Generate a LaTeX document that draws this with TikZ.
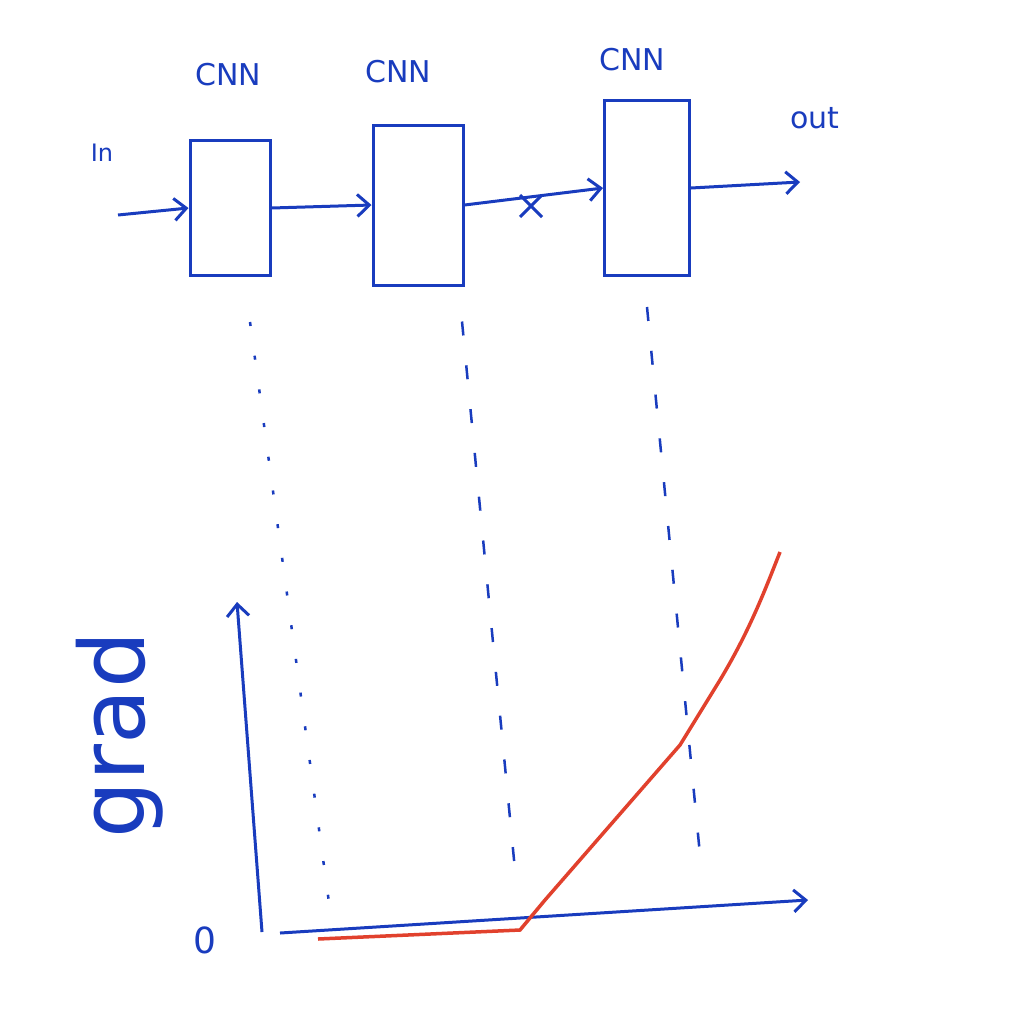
\documentclass[tikz,border=0pt]{standalone}
\usepackage{fontspec}
\setmainfont{DejaVu Sans}
\usetikzlibrary{arrows.meta}
\definecolor{pen}{RGB}{25,60,190}
\definecolor{redpen}{RGB}{225,65,45}
\tikzset{
 cnnbox/.style={draw=pen,line width=3pt,minimum width=#1,inner sep=0pt},
 lbl/.style={text=pen,font=\fontsize{30}{30}\selectfont},
 conn/.style={draw=pen,line width=3pt,-{Straight Barb[length=12pt,width=22pt]}},
 guide/.style={draw=pen,line width=2.5pt,dash pattern=on 14pt off 30pt},
}
\begin{document}
\begin{tikzpicture}[x=1pt,y=-1pt]
\useasboundingbox[fill=white] (0,0) rectangle (1024,1010);
\node[cnnbox=80pt,minimum height=135pt] (b1) at (230,208) {};
\node[cnnbox=90pt,minimum height=160pt] (b2) at (418,205) {};
\node[cnnbox=85pt,minimum height=175pt] (b3) at (647,188) {};
\node[lbl] (c1) at (228,75) {CNN};
\node[lbl] (c2) at (398,72) {CNN};
\node[lbl] (c3) at (632,60) {CNN};
\node[lbl,font=\fontsize{24}{24}\selectfont] (in) at (102,153) {In};
\node[lbl] (out) at (815,118) {out};
\coordinate (s0) at (118,215);
\coordinate (e3) at (800,182);
\draw[conn] (s0) -- (b1.west);
\draw[conn] (b1.east) -- (b2.west);
\draw[conn] (b2.east) -- (b3.west);
\draw[pen,line width=3pt] (520,195) -- (542,217) (542,195) -- (520,217);
\draw[conn] (b3.east) -- (e3);
\coordinate (o) at (262,932);
\coordinate (ytop) at (237,602);
\coordinate (xend) at (808,900);
\draw[conn] (o) -- (ytop);
\draw[conn] (280,933) -- (xend);
\node[lbl,font=\fontsize{36}{36}\selectfont] (zero) at (205,940) {0};
\node[lbl,font=\fontsize{90}{90}\selectfont,rotate=90] (grad) at (120,735) {grad};
\draw[guide,dash pattern=on 4pt off 30pt] (b1.south)++(20,45) -- (330,910);
\draw[guide] (b2.south)++(44,35) -- (515,870);
\draw[guide] (b3.south)++(0,30) -- (700,855);
\draw[redpen,line width=3.5pt] (318,939) -- (520,930) -- (545,900) -- (680,745) -- (720,680) .. controls (750,630) and (765,590) .. (780,552);
\end{tikzpicture}
\end{document}
